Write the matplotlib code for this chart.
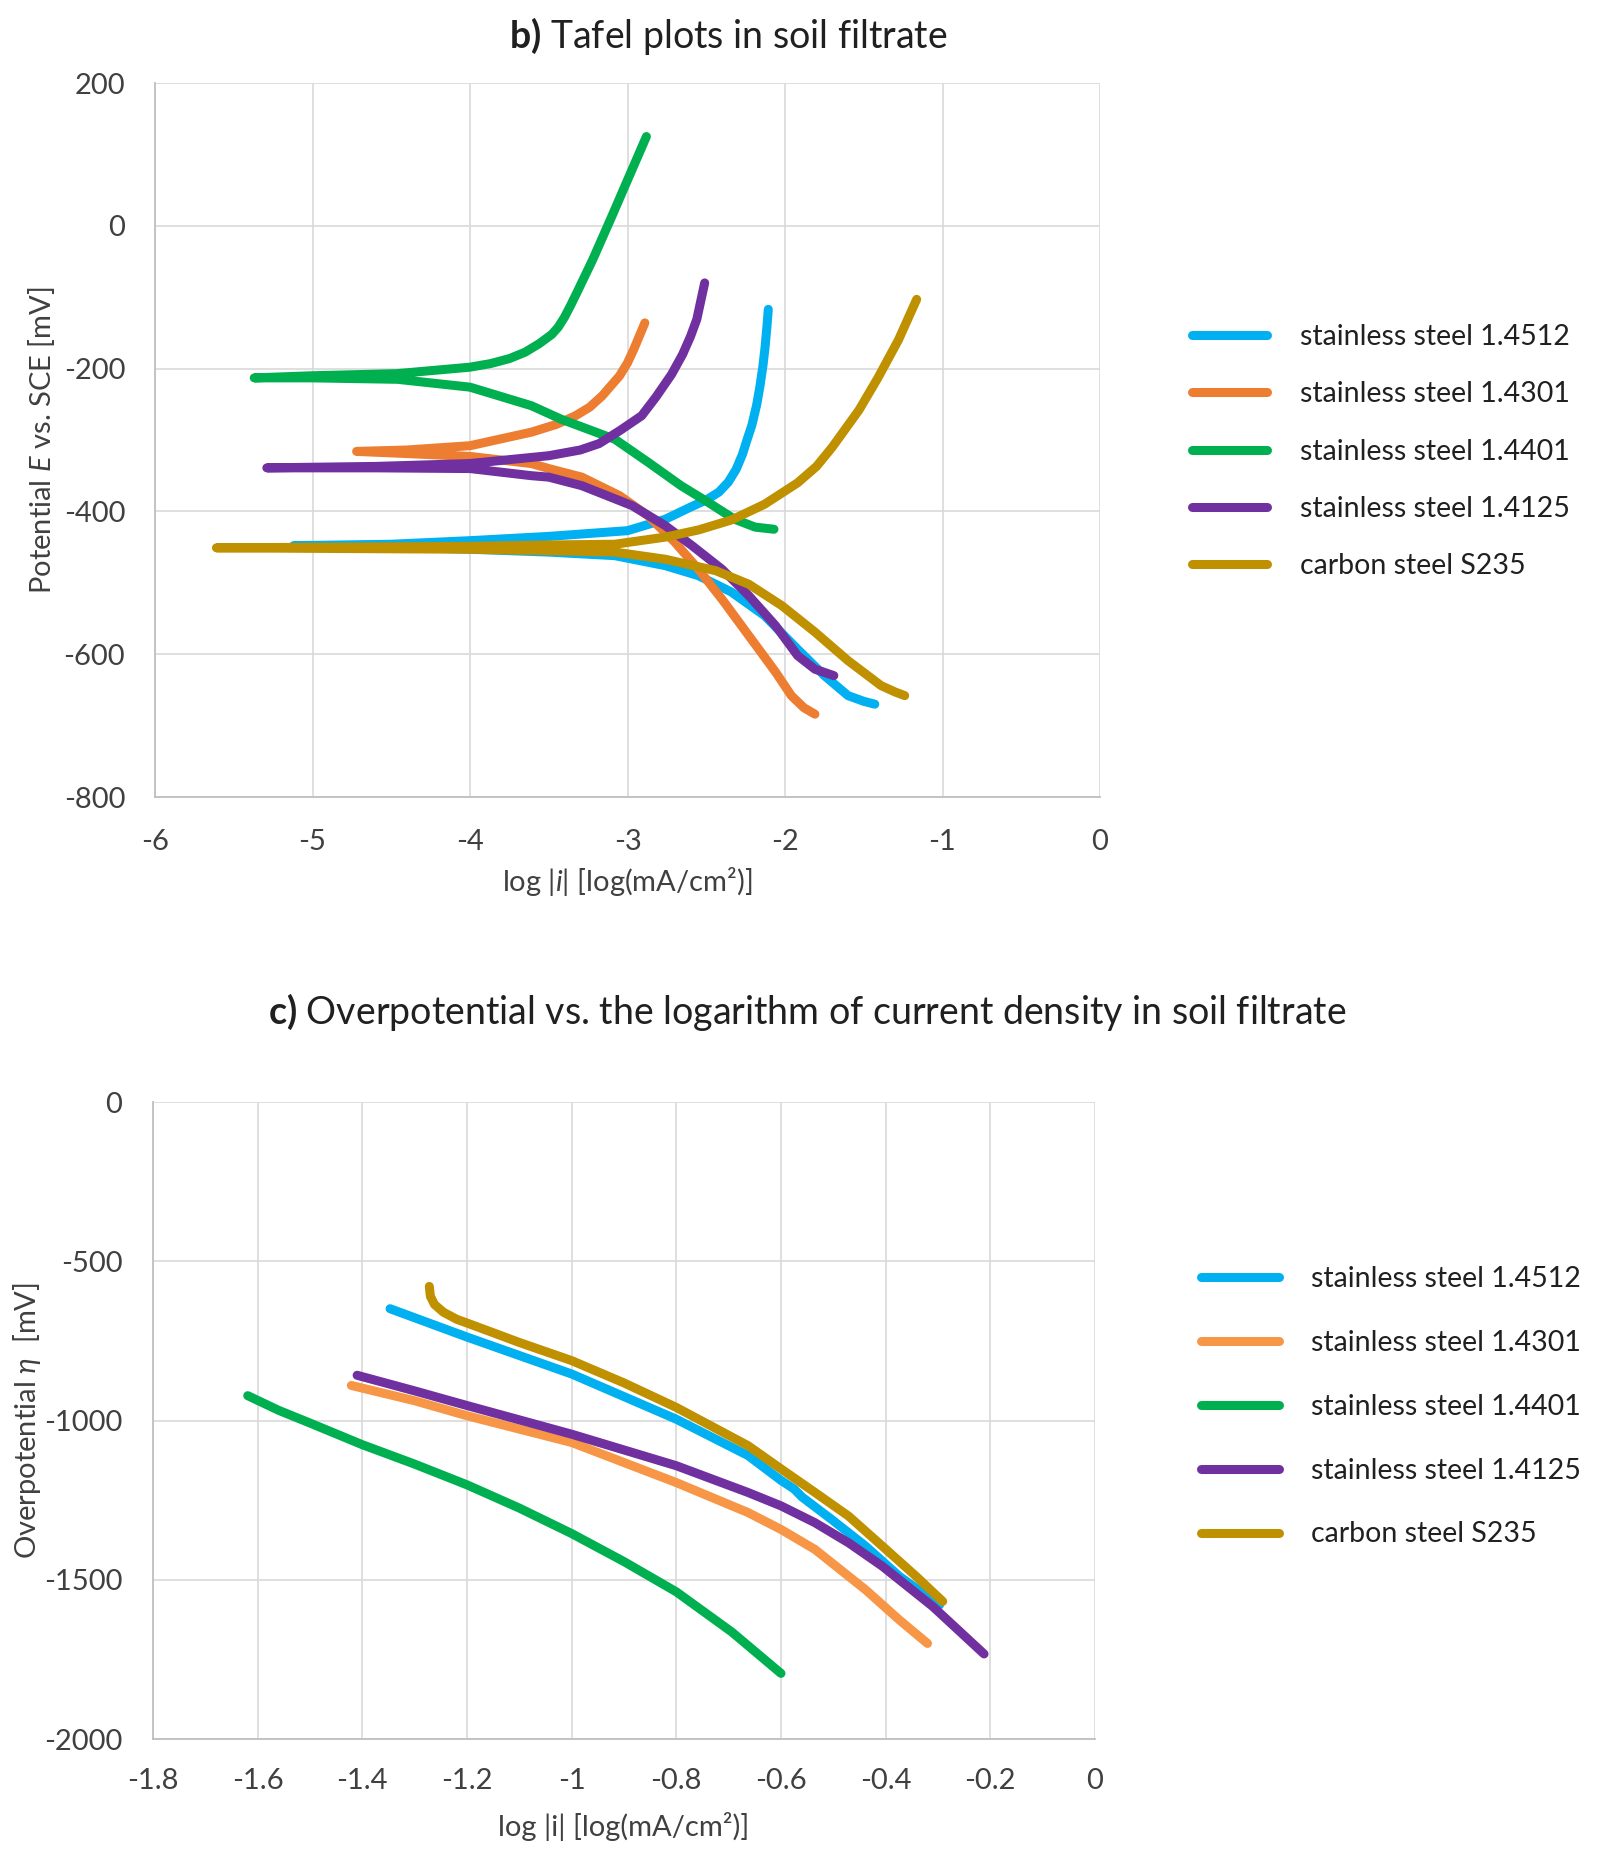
import matplotlib
matplotlib.use("Agg")
import matplotlib.pyplot as plt
from matplotlib.ticker import MultipleLocator, FuncFormatter

plt.rcParams['font.family'] = ['Lato', 'DejaVu Sans']
plt.rcParams['mathtext.fontset'] = 'custom'
plt.rcParams['mathtext.rm'] = 'Lato'
plt.rcParams['mathtext.it'] = 'Lato:italic'
plt.rcParams['mathtext.bf'] = 'Lato:bold'
plt.rcParams['axes.unicode_minus'] = False

labels = ["stainless steel 1.4512", "stainless steel 1.4301", "stainless steel 1.4401",
          "stainless steel 1.4125", "carbon steel S235"]
colors_b = ["#00B0F0", "#ED7D31", "#00B050", "#7030A0", "#BF9000"]
colors_c = ["#00B0F0", "#F79646", "#00B050", "#7030A0", "#BF9000"]

# ---- b) Tafel plots: each curve runs cathodic end -> left tip -> anodic end
b_1_4512_x = [-1.43, -1.50, -1.60, -1.75, -1.92, -2.13, -2.34, -2.55, -2.76, -3.08, -3.5, -4.0, -4.5, -5.12,
              -4.5, -4.0, -3.5, -3.0, -2.76, -2.6, -2.5, -2.42, -2.36, -2.31, -2.27, -2.24, -2.21, -2.18,
              -2.16, -2.14, -2.127, -2.115, -2.106]
b_1_4512_E = [-670, -666, -658, -630, -593, -546, -513, -490, -476, -462, -457, -453, -450, -448,
              -446, -441, -435, -427, -411, -394, -384, -373, -359, -341, -320, -299, -279, -251,
              -226, -196, -171, -142, -117]

b_1_4301_x = [-1.81, -1.88, -1.96, -2.06, -2.23, -2.40, -2.55, -2.70, -2.87, -3.05, -3.29, -3.50, -3.61, -4.0, -4.4,
              -4.72, -4.4, -4.0, -3.61, -3.45, -3.33, -3.24, -3.16, -3.05, -3.0, -2.96, -2.89]
b_1_4301_E = [-684, -675, -658, -625, -574, -523, -481, -443, -406, -378, -352, -340, -333, -323, -319,
              -316, -314, -308, -289, -278, -266, -254, -238, -210, -192, -173, -136]

b_1_4401_x = [-2.07, -2.19, -2.32, -2.49, -2.66, -2.87, -3.08, -3.42, -3.61, -4.0, -4.46, -5.0, -5.37,
              -5.0, -4.46, -4.0, -3.87, -3.75, -3.65, -3.56, -3.48, -3.44, -3.40, -3.36, -3.32, -3.22, -3.10,
              -3.0, -2.88]
b_1_4401_E = [-425, -422, -411, -387, -364, -331, -299, -271, -252, -226, -215, -213, -213,
              -210, -207, -198, -193, -186, -177, -165, -152, -142, -128, -111, -93, -47, 13,
              64, 125]

b_1_4125_x = [-1.69, -1.81, -1.92, -2.06, -2.23, -2.40, -2.59, -2.76, -2.97, -3.29, -3.50, -3.61, -4.0, -4.6, -5.29,
              -4.6, -4.0, -3.5, -3.3, -3.18, -3.05, -2.91, -2.82, -2.72, -2.65, -2.60, -2.56, -2.51]
b_1_4125_E = [-630, -621, -602, -560, -518, -481, -448, -420, -392, -364, -352, -350, -340, -339, -339,
              -337, -333, -322, -314, -305, -287, -266, -240, -208, -180, -155, -131, -80]

b_s235_x = [-1.24, -1.30, -1.39, -1.60, -1.81, -2.02, -2.23, -2.44, -2.76, -3.08, -3.5, -4.0, -4.8, -5.61,
            -4.8, -4.0, -3.5, -3.08, -2.76, -2.55, -2.34, -2.13, -1.92, -1.80, -1.70, -1.53, -1.41, -1.28, -1.164]
b_s235_E = [-658, -653, -644, -609, -569, -532, -502, -483, -467, -457, -455, -453, -452, -451,
            -450, -449, -447, -446, -436, -426, -412, -390, -360, -337, -310, -258, -213, -160, -103]

# ---- c) Overpotential vs log current density
c_1_4512_x = [-1.347, -1.2, -1.0, -0.8, -0.663, -0.6, -0.575, -0.56, -0.503, -0.438, -0.374, -0.297]
c_1_4512_eta = [-649, -738, -854, -996, -1110, -1188, -1215, -1240, -1311, -1395, -1489, -1579]

c_1_4301_x = [-1.421, -1.3, -1.2, -1.0, -0.8, -0.663, -0.6, -0.535, -0.438, -0.374, -0.32]
c_1_4301_eta = [-890, -938, -985, -1069, -1195, -1289, -1342, -1405, -1532, -1626, -1700]

c_1_4401_x = [-1.619, -1.56, -1.5, -1.4, -1.3, -1.2, -1.1, -1.0, -0.9, -0.8, -0.694, -0.6]
c_1_4401_eta = [-922, -968, -1008, -1076, -1137, -1202, -1275, -1355, -1443, -1538, -1664, -1794]

c_1_4125_x = [-1.41, -1.3, -1.2, -1.0, -0.8, -0.663, -0.6, -0.535, -0.47, -0.406, -0.31, -0.212]
c_1_4125_eta = [-858, -907, -953, -1043, -1142, -1226, -1268, -1321, -1385, -1458, -1584, -1733]

c_s235_x = [-1.272, -1.270, -1.262, -1.245, -1.22, -1.185, -1.1, -1.0, -0.9, -0.8, -0.663, -0.599, -0.535,
            -0.471, -0.406, -0.342, -0.291]
c_s235_eta = [-579, -610, -636, -660, -682, -703, -755, -812, -882, -959, -1079, -1153, -1226,
              -1300, -1395, -1489, -1568]

b_series = [(b_1_4512_x, b_1_4512_E), (b_1_4301_x, b_1_4301_E), (b_1_4401_x, b_1_4401_E),
            (b_1_4125_x, b_1_4125_E), (b_s235_x, b_s235_E)]
c_series = [(c_1_4512_x, c_1_4512_eta), (c_1_4301_x, c_1_4301_eta), (c_1_4401_x, c_1_4401_eta),
            (c_1_4125_x, c_1_4125_eta), (c_s235_x, c_s235_eta)]

W, H = 1604, 1869
fig = plt.figure(figsize=(W / 100, H / 100), dpi=100)


def px_axes(left, top, right, bottom):
    return fig.add_axes([left / W, 1 - bottom / H, (right - left) / W, (bottom - top) / H])


def style(ax, xpad, ypad):
    ax.grid(True, color="#D9D9D9", linewidth=1.2)
    ax.set_axisbelow(True)
    for s in ["top", "right"]:
        ax.spines[s].set_visible(False)
    for s in ["left", "bottom"]:
        ax.spines[s].set_color("#BFBFBF")
        ax.spines[s].set_linewidth(1.3)
    ax.tick_params(length=0, labelsize=21, colors="#404040")
    ax.tick_params(axis="x", pad=xpad)
    ax.tick_params(axis="y", pad=ypad)


fmt = FuncFormatter(lambda v, p: f"{v:g}")

# top panel
ax1 = px_axes(155, 83, 1100, 797)
style(ax1, 23, 21.5)
lines = []
for (x, y), c, lab in zip(b_series, colors_b, labels):
    ln, = ax1.plot(x, y, color=c, lw=6.5, solid_capstyle="round", solid_joinstyle="round", label=lab)
    lines.append(ln)
ax1.set_xlim(-6, 0)
ax1.set_ylim(-800, 200)
ax1.xaxis.set_major_locator(MultipleLocator(1))
ax1.yaxis.set_major_locator(MultipleLocator(200))
ax1.xaxis.set_major_formatter(fmt)
ax1.set_xlabel(r"log |$\mathit{i}$| [log(mA/cm²)]", fontsize=21, color="#404040", labelpad=7)
ax1.set_ylabel(r"Potential $\mathit{E}$ vs. SCE [mV]", fontsize=21, color="#404040", labelpad=5)
fig.text(0.454, 1 - 36 / H, r"$\mathbf{b)}$ Tafel plots in soil filtrate", ha="center", va="center",
         fontsize=27, color="#202020")
fig.legend(handles=lines, loc="upper left", bbox_to_anchor=(1192 / W, 1 - 324 / H), frameon=False,
           fontsize=20.5, handlelength=2.63, handletextpad=1.16, labelspacing=1.1, borderpad=0,
           borderaxespad=0, labelcolor="#202020")

# bottom panel
ax2 = px_axes(153, 1102, 1095, 1739)
style(ax2, 21, 22)
lines2 = []
for (x, y), c, lab in zip(c_series, colors_c, labels):
    ln, = ax2.plot(x, y, color=c, lw=6.5, solid_capstyle="round", solid_joinstyle="round", label=lab)
    lines2.append(ln)
ax2.set_xlim(-1.8, 0)
ax2.set_ylim(-2000, 0)
ax2.xaxis.set_major_locator(MultipleLocator(0.2))
ax2.yaxis.set_major_locator(MultipleLocator(500))
ax2.xaxis.set_major_formatter(fmt)
ax2.set_xlabel("log |i| [log(mA/cm²)]", fontsize=21, color="#404040", labelpad=13)
ax2.set_ylabel(r"Overpotential $\eta$  [mV]", fontsize=21, color="#404040", labelpad=1)
fig.text(0.503, 1 - 1012 / H, r"$\mathbf{c)}$ Overpotential vs. the logarithm of current density in soil filtrate",
         ha="center", va="center", fontsize=27, color="#202020")
fig.legend(handles=lines2, loc="upper left", bbox_to_anchor=(1201 / W, 1 - 1266 / H), frameon=False,
           fontsize=20.5, handlelength=2.74, handletextpad=1.12, labelspacing=1.33, borderpad=0,
           borderaxespad=0, labelcolor="#202020")

fig.savefig("out.png", dpi=100)
